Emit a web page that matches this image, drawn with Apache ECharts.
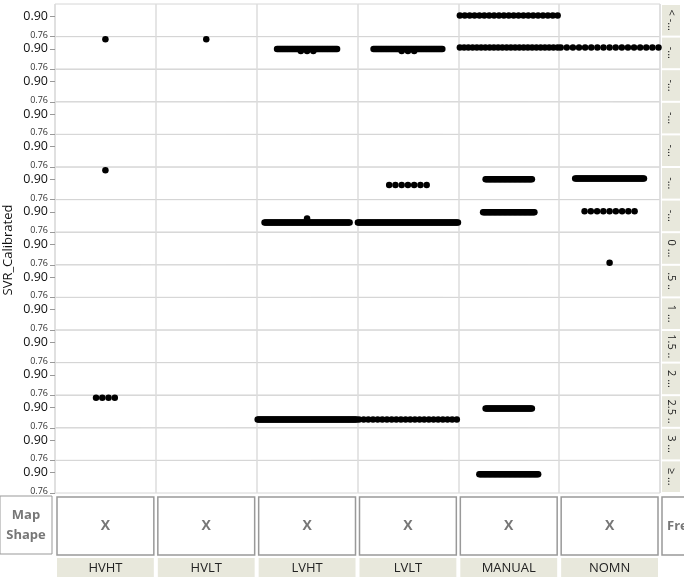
<!DOCTYPE html>
<html><head><meta charset="utf-8">
<script src="https://cdn.jsdelivr.net/npm/echarts@6/dist/echarts.min.js"></script>
<style>html,body{margin:0;padding:0;background:#fff}#c{width:684px;height:577px}</style>
</head><body><div id="c"></div>
<script>
const categories = ['HVHT','HVLT','LVHT','LVLT','MANUAL','NOMN'];
const rowLabels = ['< -...','-...','-...','-...','-...','-...','-...','0 ...','.5 ..','1 ...','1.5 ..','2 ...','2.5 ..','3 ...','≥ ...'];
const yTickLabels = ['0.76','0.90'];
// clusters of points: row index, category index, value, number of points
const clusterRow   = [0, 1, 1, 1, 1, 1, 1, 1, 1, 5, 5, 5, 5, 6, 6, 6, 6, 6, 7, 12, 12, 12, 12, 14];
const clusterCol   = [4, 0, 1, 2, 2, 3, 3, 4, 5, 0, 3, 4, 5, 2, 2, 3, 4, 5, 5, 0, 2, 3, 4, 4];
const clusterValue = [0.905,0.967,0.967,0.90,0.885,0.90,0.885,0.91,0.91,0.963,0.86,0.90,0.905,0.827,0.855,0.827,0.897,0.905,0.774,0.967,0.817,0.817,0.893,0.89];
const clusterCount = [21, 1, 1, 49, 3, 56, 3, 24, 17, 1, 7, 38, 56, 69, 1, 81, 42, 9, 1, 4, 80, 22, 38, 48];

const nRows = rowLabels.length;
const plotLeft = 55, plotRight = 24, plotTop = 4, rowH = 32.6;
const grids=[], xAxes=[], yAxes=[], series=[], graphic=[];
for (let r=0;r<nRows;r++){
  grids.push({left:plotLeft,right:plotRight,top:plotTop+r*rowH,height:rowH,show:true,borderColor:'#d6d6d6',borderWidth:1});
  xAxes.push({gridIndex:r,type:'value',min:0,max:categories.length,interval:1,show:true,
    axisLine:{show:false},axisTick:{show:false},axisLabel:{show:false},
    splitLine:{show:true,lineStyle:{color:'#dcdcdc',width:1.5}}});
  yAxes.push({gridIndex:r,type:'value',min:0.76,max:0.985,interval:0.14,
    axisLine:{show:false},splitLine:{show:false},
    axisTick:{show:true,length:5,lineStyle:{color:'#999'}},
    axisLabel:{showMaxLabel:false,margin:7,formatter:v=>{
      const s=v.toFixed(2); return s===yTickLabels[0]?'{s|'+s+'}':'{b|'+s+'}';},
      rich:{s:{fontSize:9,color:'#333',fontFamily:'Open Sans, sans-serif',padding:[0,0,3,0]},
            b:{fontSize:12.5,color:'#111',fontFamily:'Open Sans, sans-serif'}}}});
  const pts=[];
  for(let k=0;k<clusterRow.length;k++){
    if(clusterRow[k]!==r) continue;
    const n=clusterCount[k];
    const step = n>25 ? 0.0124 : (n>1?Math.min(0.062,0.97/(n-1)):0);
    for(let i=0;i<n;i++) pts.push([clusterCol[k]+0.5+(i-(n-1)/2)*step, clusterValue[k]]);
  }
  series.push({type:'scatter',xAxisIndex:r,yAxisIndex:r,symbolSize:6.5,silent:true,
    itemStyle:{color:'#000',opacity:1},data:pts});
  const t=plotTop+r*rowH;
  graphic.push({type:'rect',shape:{x:662,y:t+1,width:18,height:rowH-2},style:{fill:'#e8e8dc'}});
  graphic.push({type:'text',x:671,y:t+rowH/2,rotation:-Math.PI/2,
    style:{text:rowLabels[r],fill:'#222',font:'11px Open Sans, sans-serif',align:'center',verticalAlign:'middle'}});
}
graphic.push({type:'text',x:8,y:250,rotation:Math.PI/2,
  style:{text:'SVR_Calibrated',fill:'#111',font:'13px Open Sans, sans-serif',align:'center',verticalAlign:'middle'}});
const colW=(684-plotLeft-plotRight)/categories.length;
graphic.push({type:'rect',shape:{x:0,y:496,width:52,height:58},style:{fill:'#fff',stroke:'#999',lineWidth:1}});
graphic.push({type:'text',x:26,y:525,style:{text:'Map\nShape',fill:'#777',font:'bold 13px Open Sans, sans-serif',align:'center',verticalAlign:'middle',lineHeight:20}});
categories.forEach((c,i)=>{
  const x=plotLeft+i*colW;
  graphic.push({type:'rect',shape:{x:x+2,y:497,width:colW-4,height:58},style:{fill:'#fff',stroke:'#999',lineWidth:1.5}});
  graphic.push({type:'text',x:x+colW/2,y:526,style:{text:'X',fill:'#777',font:'bold 14px Open Sans, sans-serif',align:'center',verticalAlign:'middle'}});
  graphic.push({type:'rect',shape:{x:x+2,y:558,width:colW-4,height:19},style:{fill:'#e8e8dc'}});
  graphic.push({type:'text',x:x+colW/2,y:568,style:{text:c,fill:'#222',font:'13px Open Sans, sans-serif',align:'center',verticalAlign:'middle'}});
});
graphic.push({type:'rect',shape:{x:662,y:497,width:30,height:58},style:{fill:'#fff',stroke:'#999',lineWidth:1.5}});
graphic.push({type:'text',x:667,y:526,style:{text:'Fre',fill:'#777',font:'bold 13px Open Sans, sans-serif',verticalAlign:'middle'}});

const chart=echarts.init(document.getElementById('c'));
chart.setOption({animation:false,grid:grids,xAxis:xAxes,yAxis:yAxes,series:series,graphic:graphic});
</script></body></html>
